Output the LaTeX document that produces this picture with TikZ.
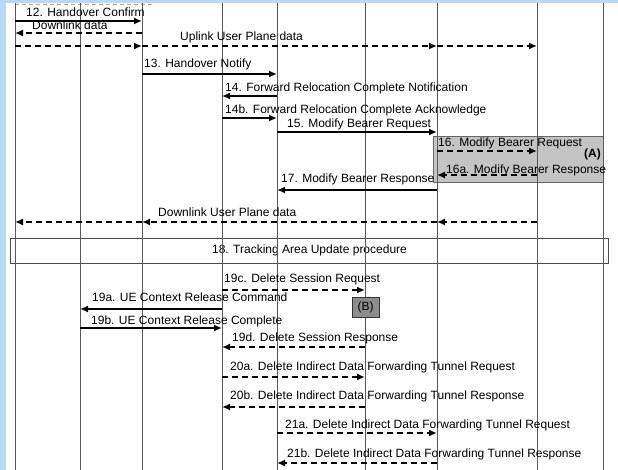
\documentclass[tikz,border=0pt]{standalone}
\usepackage{fontspec}
\setmainfont{Liberation Sans}
\usetikzlibrary{arrows.meta}
\definecolor{winblue}{RGB}{183,217,247}
\def\msg[#1](#2)(#3)(#4){\draw[#1] (#2 |- 0,#4) -- (#3 |- 0,#4);}

\begin{document}
\begin{tikzpicture}[x=1pt,y=-1pt,font=\fontsize{12}{14}\selectfont,
	life/.style={black!65,line width=0.9pt},
	msg/.style={line width=2pt,-{Latex[length=8pt,width=7pt]}},
	dmsg/.style={msg,dash pattern=on 6pt off 4pt},
	lbl/.style={anchor=base west,inner sep=0pt}]
			%%%%% START %%%%%
			\useasboundingbox (0,0) rectangle (618,470);
			\fill[winblue] (0,0) rectangle (6,470);
			\fill[winblue] (0,0) rectangle (618,3);
			\draw[black!35,dash pattern=on 4pt off 3pt] (15,4) -- (155,4);
			
			\coordinate (ue) at (15,3);
			\coordinate (senb) at (80,3);
			\coordinate (tenb) at (142,3);
			\coordinate (smme) at (222,3);
			\coordinate (tmme) at (277,3);
			\coordinate (ssgw) at (365,3);
			\coordinate (tsgw) at (437,3);
			\coordinate (pgw) at (537,3);
			\coordinate (hss) at (603,3);
			
			\draw[fill=black!23,draw=black!60,line width=0.8pt] (433,136) rectangle (603,182);
			\node[draw=black!70,line width=0.8pt,minimum width=598pt,minimum height=25pt,inner sep=0pt] (tau) at (309.5,250.5) {18. Tracking Area Update procedure};
			
			\draw[life] (ue) -- (ue |- 0,470);
			\draw[life] (senb) -- (senb |- 0,470);
			\draw[life] (tenb) -- (tenb |- 0,470);
			\draw[life] (smme) -- (smme |- 0,470);
			\draw[life] (tmme) -- (tmme |- 0,470);
			\draw[life] (ssgw) -- (ssgw |- 0,470);
			\draw[life] (tsgw) -- (tsgw |- 0,470);
			\draw[life] (pgw) -- (pgw |- 0,470);
			\draw[life] (hss) -- (hss |- 0,470);
			
			\node[lbl] (l12) at (26,17) {12. Handover Confirm};
			\msg[msg](ue)(tenb)(21);
			\node[lbl] (ldl) at (32,29.5) {Downlink data};
			\msg[dmsg](tenb)(ue)(33);
			\node[lbl] (lul) at (180,41) {Uplink User Plane data};
			\msg[dmsg](ue)(tenb)(46);
			\msg[dmsg](tenb)(tsgw)(46);
			\msg[dmsg](tsgw)(pgw)(46);
			
			\node[lbl] (l13) at (144,68) {13. Handover Notify};
			\msg[msg](tenb)(tmme)(74);
			\node[lbl] (l14) at (225,92) {14. Forward Relocation Complete Notification};
			\msg[msg](tmme)(smme)(96);
			\node[lbl] (l14b) at (225,114) {14b. Forward Relocation Complete Acknowledge};
			\msg[msg](smme)(tmme)(118);
			\node[lbl] (l15) at (287,128) {15. Modify Bearer Request};
			\msg[msg](tmme)(tsgw)(132);
			
			\node[lbl] (l16) at (438,147) {16. Modify Bearer Request};
			\msg[dmsg](tsgw)(pgw)(151);
			\node[lbl,font=\fontsize{12}{14}\selectfont\bfseries] (la) at (584,158) {(A)};
			\node[lbl] (l16a) at (446,174) {16a. Modify Bearer Response};
			\msg[dmsg](pgw)(tsgw)(175);
			\node[lbl] (l17) at (281,183) {17. Modify Bearer Response};
			\msg[msg](tsgw)(tmme)(190);
			
			\node[lbl] (ldlu) at (158,217) {Downlink User Plane data};
			\msg[dmsg](pgw)(tsgw)(222);
			\msg[dmsg](tsgw)(tenb)(222);
			\msg[dmsg](tenb)(ue)(222);
			
			\node[lbl] (l19c) at (224,282) {19c. Delete Session Request};
			\msg[dmsg](smme)(ssgw)(290);
			\node[lbl] (l19a) at (92,301) {19a. UE Context Release Command};
			\msg[msg](smme)(senb)(309);
			\node[draw=black!80,fill=black!45,line width=0.8pt,minimum width=27pt,minimum height=20pt,inner sep=0pt] (boxb) at (365.5,307) {(B)};
			\node[lbl] (l19b) at (91,324) {19b. UE Context Release Complete};
			\msg[msg](senb)(smme)(328);
			\node[lbl] (l19d) at (232,341) {19d. Delete Session Response};
			\msg[dmsg](ssgw)(smme)(347);
			
			\node[lbl] (l20a) at (230,370) {20a. Delete Indirect Data Forwarding Tunnel Request};
			\msg[dmsg](smme)(ssgw)(377);
			\node[lbl] (l20b) at (230,399) {20b. Delete Indirect Data Forwarding Tunnel Response};
			\msg[dmsg](ssgw)(smme)(407);
			\node[lbl] (l21a) at (285,428) {21a. Delete Indirect Data Forwarding Tunnel Request};
			\msg[dmsg](tmme)(tsgw)(433);
			\node[lbl] (l21b) at (287,457) {21b. Delete Indirect Data Forwarding Tunnel Response};
			\msg[dmsg](tsgw)(tmme)(463);
			%%%%% END %%%%%
		\end{tikzpicture}
\end{document}
